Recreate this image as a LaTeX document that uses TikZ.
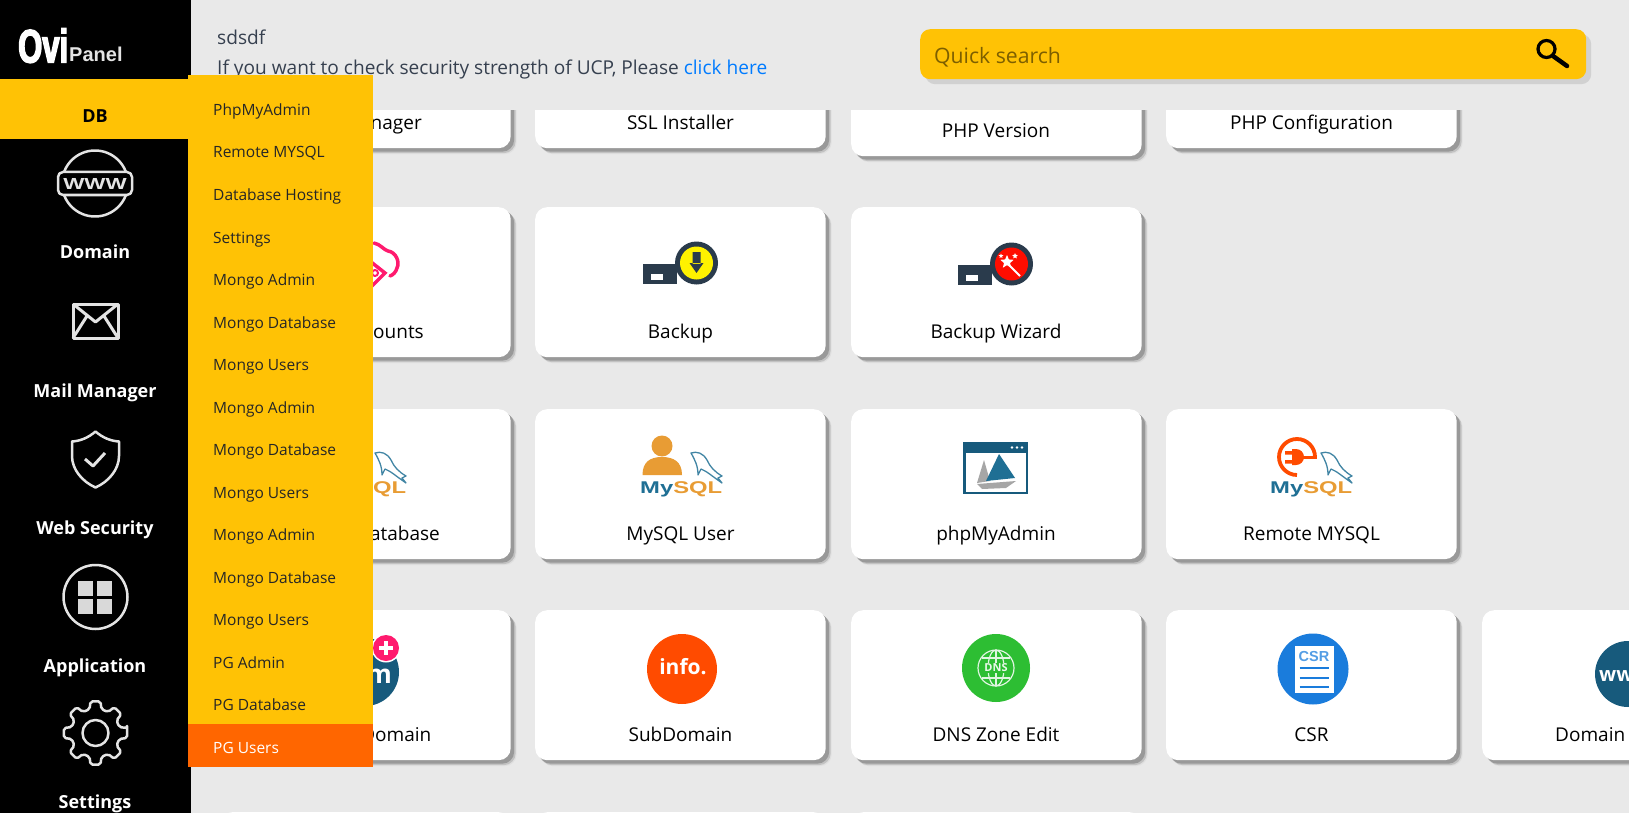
\documentclass[tikz,border=0pt]{standalone}
\usepackage{fontspec}
\setmainfont{Open Sans}
\newfontfamily\logofont{Liberation Sans}
\newfontfamily\logoheavy[BoldFeatures={FakeBold=3,FakeStretch=0.66}]{Liberation Sans}
\usetikzlibrary{shapes.geometric}
\definecolor{pageback}{HTML}{E9E9E9}
\definecolor{panelyellow}{HTML}{FFC205}
\definecolor{activeorange}{HTML}{FF6600}
\definecolor{headtext}{HTML}{36404F}
\definecolor{linkblue}{HTML}{007BFF}
\definecolor{hintbrown}{HTML}{7D5F00}
\definecolor{iconline}{HTML}{E4E4E4}
\definecolor{driveblue}{HTML}{2A3B4C}
\definecolor{sqlblue}{HTML}{1F6F94}
\definecolor{sqlorange}{HTML}{E89C34}
\definecolor{teal}{HTML}{175A7C}
\definecolor{plugred}{HTML}{FF4B00}
\definecolor{pinkmark}{HTML}{FF1A6E}
\definecolor{dnsgreen}{HTML}{2DBE33}
\definecolor{csrblue}{HTML}{1A7CDC}
\tikzset{
  cardbox/.style={anchor=north west, fill=white, rounded corners=12pt, minimum width=290.5pt, minimum height=150pt, inner sep=0pt,
    preaction={fill=black!12, transform canvas={xshift=6pt,yshift=-6pt}},
    preaction={fill=black!24, transform canvas={xshift=5pt,yshift=-5pt}},
    preaction={fill=black!40, transform canvas={xshift=3.5pt,yshift=-3.5pt}}},
  cardlabel/.style={anchor=base, inner sep=0pt, font=\fontsize{19}{22}\selectfont, text=black},
  menuitem/.style={anchor=base west, inner sep=0pt, font=\fontsize{15.5}{18}\selectfont, text=black!85},
  navlabel/.style={anchor=base, inner sep=0pt, font=\fontsize{18}{20}\selectfont\bfseries, text=white},
  navicon/.style={draw=iconline, line width=2.5pt, line join=round},
  toptext/.style={anchor=base west, inner sep=0pt, font=\fontsize{19.1}{22}\selectfont, text=headtext}
}
\newcommand{\drivemark}[3]{
  \begin{scope}[shift={#1}]
    \fill[driveblue] (0,0) rectangle (34,20);
    \fill[driveblue] (53.5,-1) circle (21.5);
    \fill[#2] (53.5,-1) circle (16.5);
    \fill[white] (8,10) rectangle (20,16);
    #3
  \end{scope}
}
\newcommand{\dolphinmark}[1]{
  \begin{scope}[shift={#1}]
    \draw[sqlblue!85, line width=1.3pt, line join=round] (0,1) .. controls (6,-1) and (12,1) .. (16,8) .. controls (19,15) and (24,20) .. (31,24) -- (27,26) -- (31,31) -- (24,26) .. controls (20,23) and (16,20) .. (14,19) -- (10,17) -- (7,23) .. controls (7,14) and (4,8) .. cycle;
  \end{scope}
}
\newcommand{\sqlword}[1]{
  \node[anchor=base west, inner sep=0pt, font=\logofont\bfseries\fontsize{17}{17}\selectfont] at #1 {\scalebox{1.4}[1]{\textcolor{sqlblue}{My}\textcolor{sqlorange}{SQL}}};
}
\begin{document}
\begin{tikzpicture}[x=1pt,y=-1pt]
  \path[use as bounding box, clip] (0,0) rectangle (1629,813);
  \fill[pageback] (0,0) rectangle (1629,813);

  \foreach \cname/\cx/\cy in {mgr/220/-2, ssl/535/-2, ver/851/6, cfg/1166/-2,
    acc/220/207, bak/535/207, wiz/851/207,
    dbs/220/409, usr/535/409, pma/851/409, rem/1166/409,
    dom/220/610, sub/535/610, dns/851/610, csr/1166/610, dmn/1482/610,
    low1/220/812, low2/535/812, low3/851/812}
    \node[cardbox] (\cname) at (\cx,\cy) {};

  \foreach \lname/\lx/\ly/\ltext in {lssl/680.5/130/SSL Installer, lver/996/137.5/PHP Version, lcfg/1311.5/129.5/PHP Configuration,
    lbak/680.5/338/Backup, lwiz/996/338/Backup Wizard,
    lusr/680.5/540/MySQL User, lpma/996/540/phpMyAdmin, lrem/1311.5/540/Remote MYSQL,
    lsub/680.5/741.5/SubDomain, ldns/996/741.5/DNS Zone Edit, lcsr/1311.5/741.5/CSR}
    \node[cardlabel] (\lname) at (\lx,\ly) {\ltext};
  \node[cardlabel, anchor=base east] (lmgr) at (422,130) {anager};
  \node[cardlabel, anchor=base east] (lacc) at (424,338) {counts};
  \node[cardlabel, anchor=base east] (ldbs) at (440,540) {Database};
  \node[cardlabel, anchor=base east] (ldom) at (431.5,741.5) {Domain};
  \node[cardlabel, anchor=base west] (ldmn) at (1555,741.5) {Domain};

  \draw[pinkmark, line width=3.5pt, line cap=round] (374,243) .. controls (380,244) and (384,250) .. (388,251) .. controls (396,252) and (400,262) .. (397,268) .. controls (396,272) and (393,275) .. (390,276);
  \draw[pinkmark, line width=3.5pt] (366,258) -- (385,273) -- (366,292);
  \draw[pinkmark, line width=2pt] (375,273) circle (3);

  \drivemark{(643,264)}{yellow}{
    \fill[driveblue] (49.5,-12) rectangle (57.5,0) (46.5,-1) -- (60.5,-1) -- (53.5,9) -- cycle;
  }
  \drivemark{(958,265)}{red!90!orange}{
    \draw[white, line width=2pt] (51,0) -- (62,11);
    \node[star, star points=5, star point ratio=2.2, fill=white, minimum size=14pt, inner sep=0pt] (wizstar) at (49,-3) {};
    \node[star, star points=5, star point ratio=2.2, fill=white, minimum size=5pt, inner sep=0pt] (wizstara) at (43,-9) {};
    \node[star, star points=5, star point ratio=2.2, fill=white, minimum size=6pt, inner sep=0pt] (wizstarb) at (57,-9) {};
  }

  \dolphinmark{(375,452)}
  \sqlword{(324,493)}
  \fill[sqlorange] (662,446) circle (10.5);
  \fill[sqlorange] (642.5,475) .. controls (642.5,462) and (650,457) .. (662,457) .. controls (674,457) and (682,462) .. (682,475) -- cycle;
  \dolphinmark{(691,452)}
  \sqlword{(640,493)}

  \fill[teal] (963,442) rectangle (1028,494);
  \fill[white] (965.5,453) rectangle (1025.5,491.5);
  \foreach \dotx in {1012,1017,1022} \fill[white] (\dotx,447.5) circle (1.4);
  \fill[black!35] (984,460) -- (977,483) -- (990,481) -- cycle;
  \fill[sqlblue] (999,454) -- (986,481) -- (1015,478) -- cycle;
  \fill[black!35] (977,484) -- (1016,481) -- (1006,488) -- (982,489) -- cycle;

  \draw[plugred, line width=3.8pt] (1315,457) arc (0:-270:18);
  \fill[plugred] (1292,449) -- (1296,449) arc (-90:90:8) -- (1292,465) -- cycle;
  \fill[plugred] (1300,455.5) rectangle (1317,459);
  \fill[plugred] (1285,451) rectangle (1292,454.5) (1285,460) rectangle (1292,463.5);
  \dolphinmark{(1321,452)}
  \sqlword{(1270,493)}

  \fill[teal] (365,672) circle (34);
  \node[anchor=base east, inner sep=0pt, font=\fontsize{26}{26}\selectfont\bfseries, text=white] (dommark) at (392,683) {m};
  \fill[white] (386,648) circle (14.5);
  \fill[pinkmark] (386,648) circle (13);
  \draw[white, line width=3.5pt] (379,648) -- (393,648) (386,641) -- (386,655);

  \fill[plugred] (682,669) circle (35);
  \node[font=\fontsize{21}{21}\selectfont\bfseries, text=white, inner sep=0pt] (infomark) at (683,667) {info.};

  \fill[dnsgreen] (996,668) circle (34);
  \begin{scope}[shift={(996,668)}, draw=white!85!dnsgreen, line width=1.2pt]
    \draw (0,0) circle (18);
    \draw (0,0) ellipse (8 and 18);
    \draw (0,-18) -- (0,18) (-14,-10) -- (14,-10) (-14,10) -- (14,10);
    \node[fill=dnsgreen, inner sep=0.5pt, text=white!90!dnsgreen, font=\fontsize{11}{11}\selectfont\bfseries] (dnsmark) at (0,0) {DNS};
  \end{scope}

  \fill[csrblue] (1313,669) circle (35.5);
  \fill[white] (1295,646) rectangle (1333.5,693);
  \node[font=\logofont\bfseries\fontsize{14.5}{15}\selectfont, text=csrblue!75, inner sep=0pt] (csrmark) at (1314,657) {CSR};
  \foreach \csry in {668,678,687} \draw[csrblue, line width=1.6pt] (1299.5,\csry) -- (1329,\csry);

  \fill[teal] (1628,674) circle (33);
  \node[anchor=base west, inner sep=0pt, font=\fontsize{20}{20}\selectfont\bfseries, text=white] (dmnmark) at (1599,681) {www};

  \fill[pageback] (191,0) rectangle (1629,110);
  \node[toptext] (note) at (217,44.5) {sdsdf};
  \node[toptext] (check) at (217,74.5) {If you want to check security strength of UCP, Please \textcolor{linkblue}{click here}};

  \node[anchor=north west, fill=panelyellow, rounded corners=10pt, minimum width=666pt, minimum height=50pt, inner sep=0pt,
    preaction={fill=black!18, transform canvas={xshift=5pt,yshift=-5pt}}] (search) at (920,29) {};
  \node[anchor=base west, inner sep=0pt, font=\fontsize{21.2}{22}\selectfont, text=hintbrown] (hint) at (934,63.5) {Quick search};
  \draw[black, line width=3.2pt] (1546.5,49) circle (8.5);
  \draw[black, line width=4.5pt, line cap=round] (1553,56) -- (1567,66);

  \fill[black] (0,0) rectangle (191,813);
  \node[anchor=base west, inner sep=0pt, font=\logoheavy\bfseries\fontsize{47}{47}\selectfont, text=white] (logoa) at (18,62.5) {Ovi};
  \node[anchor=base west, inner sep=0pt, font=\logofont\bfseries\fontsize{20}{20}\selectfont, text=iconline] (logob) at (69,62) {Panel};

  \fill[panelyellow] (188,75) rectangle (373,767);
  \fill[panelyellow] (0,79) rectangle (188,139);
  \fill[activeorange] (188,724) rectangle (373,767);
  \foreach \mtext [count=\mi from 0] in {PhpMyAdmin, Remote MYSQL, Database Hosting, Settings, Mongo Admin, Mongo Database, Mongo Users, Mongo Admin, Mongo Database, Mongo Users, Mongo Admin, Mongo Database, Mongo Users, PG Admin, PG Database}
    \node[menuitem] (menu\mi) at (213,{115.5+42.5*\mi}) {\mtext};
  \node[menuitem, text=white] (menulast) at (213,753) {PG Users};

  \node[navlabel, text=black] (navdb) at (95,122.5) {DB};
  \foreach \nname/\ny/\ntext in {navdomain/258.5/Domain, navmail/397/Mail Manager, navweb/534/Web Security, navapp/672/Application, navset/808.5/Settings}
    \node[navlabel] (\nname) at (95,\ny) {\ntext};

  \draw[navicon] (95,183.5) circle (33);
  \draw[navicon, fill=black, rounded corners=5pt] (58,172) rectangle (132,195);
  \node[font=\logofont\bfseries\fontsize{16}{16}\selectfont, text=iconline, inner sep=0pt] (wwwmark) at (95,183.5) {\scalebox{1.4}[1]{WWW}};

  \draw[navicon, line width=3pt] (73,304) rectangle (118,338);
  \draw[navicon, line width=3pt] (73,304) -- (95.5,322) -- (118,304) (73,338) -- (87,316) (118,338) -- (104,316);

  \draw[navicon] (95.5,431.5) .. controls (103,438) and (111,441) .. (119,441.5) -- (119,456) .. controls (119,470) and (108,482) .. (95.5,487.5) .. controls (83,482) and (72,470) .. (72,456) -- (72,441.5) .. controls (80,441) and (88,438) .. cycle;
  \draw[navicon, line width=3pt] (85,459) -- (93,466) -- (105,453);

  \draw[navicon] (95.5,597) circle (32);
  \foreach \sqx/\sqy in {78/581, 97/581, 78/599, 97/599}
    \fill[black!15] (\sqx,\sqy) rectangle ++(15,15);

  \begin{scope}[shift={(95.5,733)}]
    \draw[navicon, rounded corners=2pt] (-9:32)
      \foreach \gearang in {0,45,...,315} {
        -- ({\gearang-9}:32) -- ({\gearang+9}:32) -- ({\gearang+14}:24.5) -- ({\gearang+31}:24.5)
      } -- cycle;
    \draw[navicon] (0,0) circle (13);
  \end{scope}
\end{tikzpicture}
\end{document}
